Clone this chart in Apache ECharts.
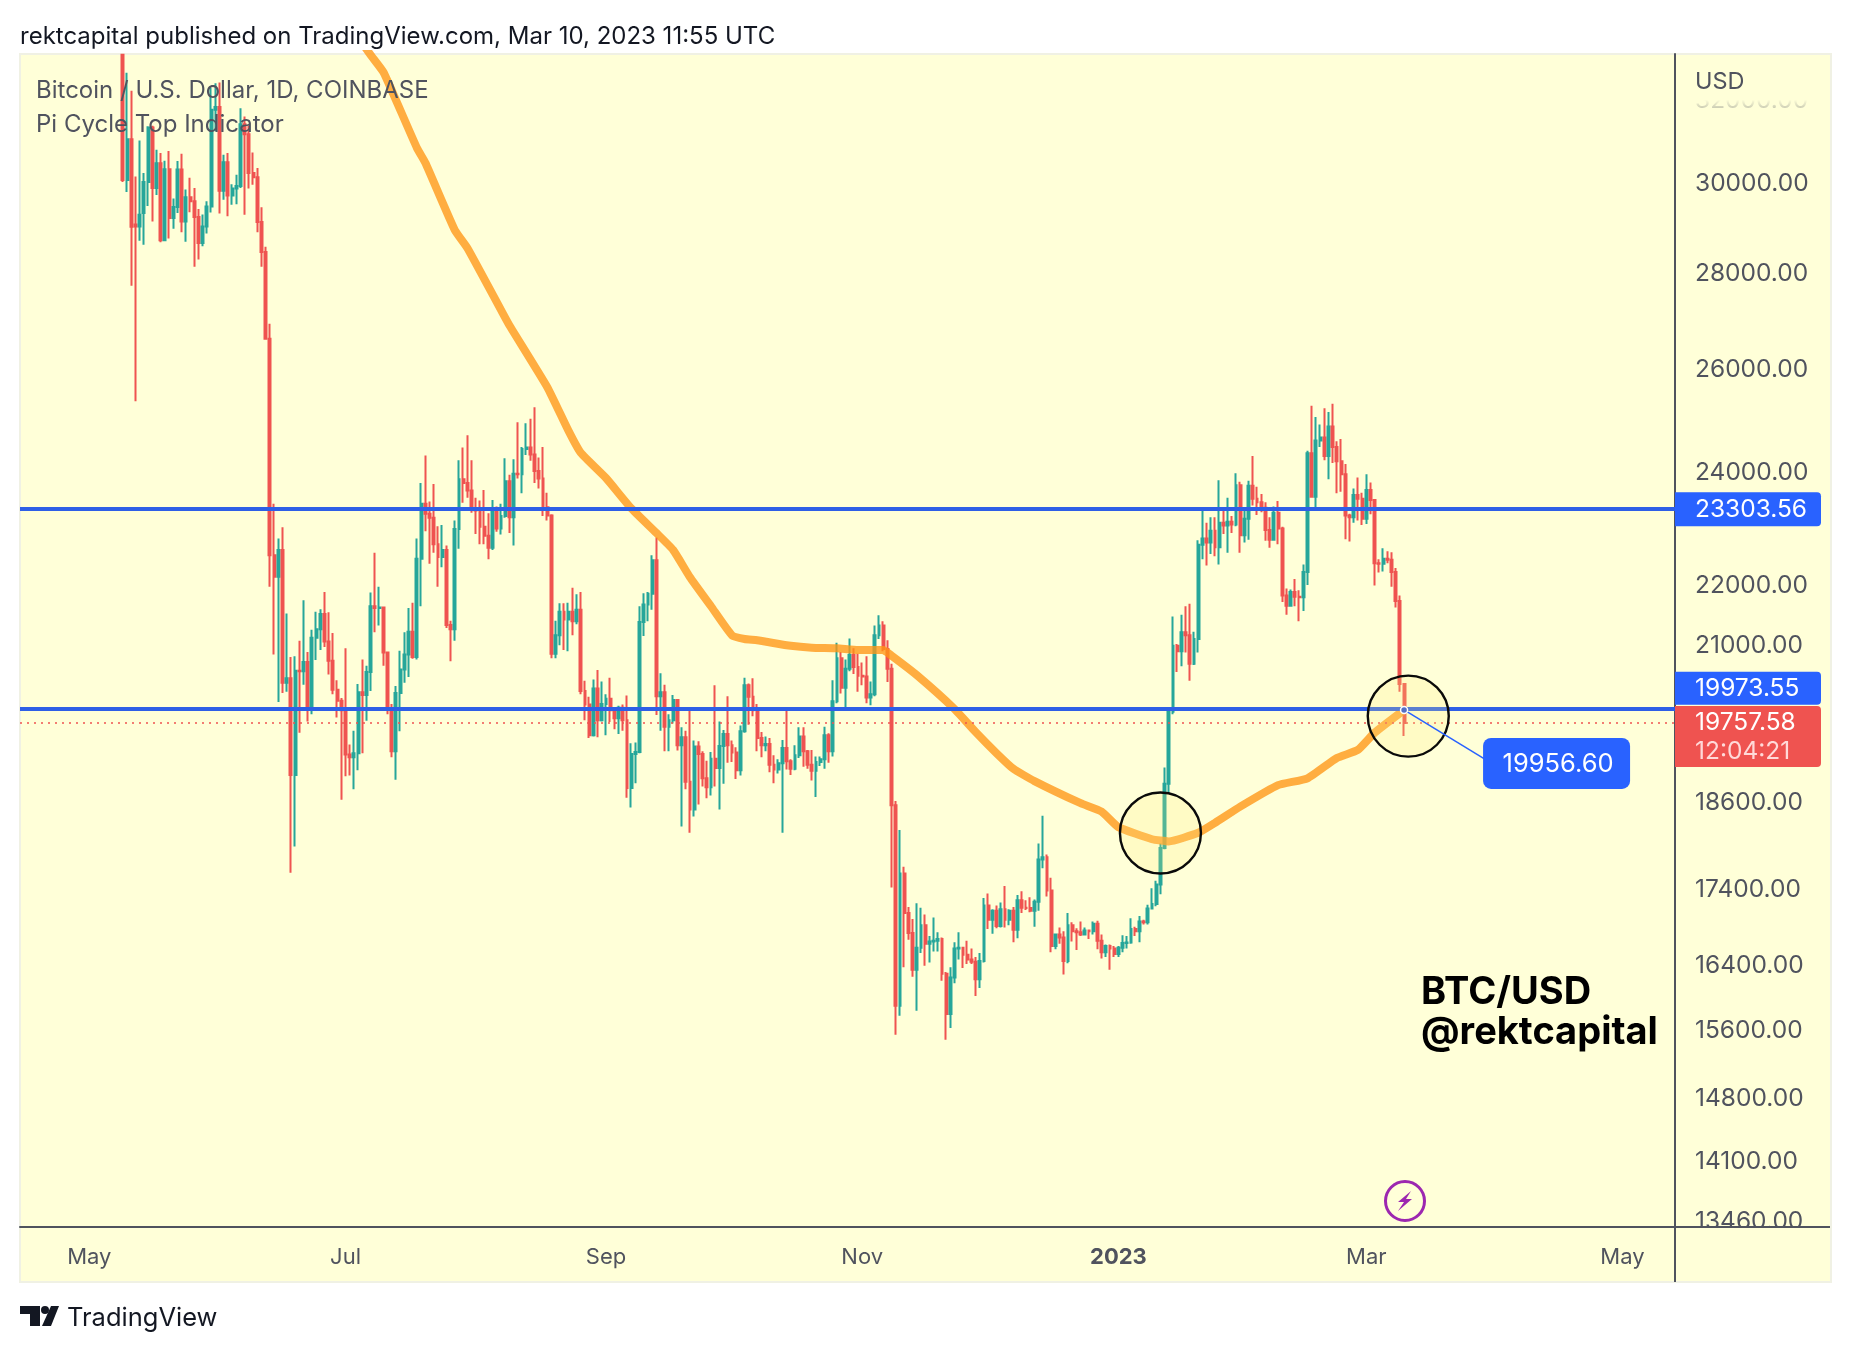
<!DOCTYPE html>
<html>
<head>
<meta charset="utf-8">
<script src="https://cdn.jsdelivr.net/npm/echarts@6/dist/echarts.min.js"></script>
<style>
  html, body { margin: 0; background: #fff; }
  #chart { width: 1850px; height: 1352px; }
</style>
</head>
<body>
<div id="chart"></div>
<script>
// daily candles, 2022-05-09 to 2023-03-10
const opens = [
  33100,30050,31010,29030,28990,29290,30000,31290,29860,30440,28680,30300,29180,29430,30290,29100,29650,29560,29200,28620,28990,29440,31720,
  31790,29800,30460,29690,29850,29910,31370,31130,30210,30110,29090,28420,26580,22490,22120,22580,20380,20450,18980,20570,20560,20710,19970,21100,21240,21490,21040,20730,20270,20100,
  19950,19280,19240,19300,20230,20190,20550,21620,21590,21600,20860,19970,19330,20220,20590,20830,21200,20790,22430,23400,23220,23150,22680,22460,22580,21310,21240,22950,23850,23780,23640,
  23300,23280,22990,22830,22620,23310,22960,23180,23810,23160,23950,23940,24410,24440,24310,24000,23860,23340,23190,20840,21140,21530,21400,21530,21370,21560,20250,20040,19570,20290,19800,
  20050,20130,19950,19830,19990,19800,18790,19290,19320,21360,21650,21830,22400,20170,20230,19700,19800,20110,19420,19540,18880,18480,19400,19290,18930,18800,19220,19080,19410,19590,
  19420,19310,19050,19630,20340,20160,19950,19530,19420,19440,19130,19060,19150,19380,19180,19070,19270,19550,19330,19130,19040,19170,19210,19570,19330,20090,20770,20300,20600,20820,20630,
  20490,20480,20150,20200,21140,21300,20920,20600,18540,15880,17590,17060,16800,16330,16610,16900,16660,16690,16700,16720,16280,15780,16230,16600,16610,16520,16460,16430,16210,16440,
  17160,16970,17090,16890,17110,16970,17090,16840,17230,17130,17125,17090,17210,17780,17810,17360,16630,16780,16740,16440,16900,16820,16810,16780,16830,16820,16920,16700,16550,16630,16600,
  16530,16610,16670,16675,16850,16820,16950,16940,17120,17180,17440,17940,18850,19930,20970,20880,21190,21140,20680,21080,22670,22780,22710,22920,22630,23060,23010,23080,23030,23740,22840,
  23130,23730,23490,23430,23330,22930,22760,23240,22960,21800,21630,21860,21780,21770,22200,24330,23530,24570,24630,24280,24840,24450,24180,23940,23190,23160,23560,23490,
  23130,23650,23470,22350,22340,22430,22410,22200,21710,20360
];
const closes = [
  30050,31010,28980,28990,29250,30000,31290,29860,30440,28680,30300,29180,29430,30290,29100,29650,29560,29200,28620,28990,29440,31720,31790,
  29800,30460,29690,29850,29910,31370,31130,30210,30110,29090,28420,26580,22490,22120,22580,20380,20450,18980,20570,20560,20710,19970,21100,21240,21490,21040,20730,20270,20100,19950,
  19280,19240,19300,20230,20190,20550,21620,21590,21600,20860,19970,19330,20220,20590,20830,21200,20790,22430,23400,23220,23150,22680,22460,22580,21310,21240,22950,23850,23780,23640,23300,
  23280,22990,22830,22620,23310,22960,23180,23810,23160,23950,23940,24410,24440,24310,24000,23860,23340,23190,20840,21140,21530,21400,21530,21370,21560,20250,20040,19570,20290,19800,20050,
  20130,19950,19830,19990,19800,18790,19290,19320,21360,21650,21830,22400,20170,20230,19700,19800,20110,19420,19540,18880,18480,19400,19290,18930,18800,19220,19080,19410,19590,19420,
  19310,19050,19630,20340,20160,19950,19530,19420,19440,19130,19060,19150,19380,19180,19070,19270,19550,19330,19130,19040,19170,19210,19570,19330,20090,20770,20300,20600,20820,20630,20490,
  20480,20150,20200,21140,21300,20920,20600,18540,15880,17590,17060,16800,16330,16610,16900,16660,16690,16700,16720,16280,15780,16230,16600,16610,16520,16460,16430,16210,16440,17160,
  16970,17090,16890,17110,16970,17090,16840,17230,17130,17125,17090,17210,17780,17810,17360,16630,16780,16740,16440,16900,16820,16810,16780,16830,16820,16920,16700,16550,16630,16600,16530,
  16610,16670,16675,16850,16820,16950,16940,17120,17180,17440,17940,18850,19930,20970,20880,21190,21140,20680,21080,22670,22780,22710,22920,22630,23060,23010,23080,23030,23740,22840,23130,
  23730,23490,23430,23330,22930,22760,23240,22960,21800,21630,21860,21780,21770,22200,24330,23530,24570,24630,24280,24840,24450,24180,23940,23190,23160,23560,23490,23130,
  23650,23470,22350,22340,22430,22410,22200,21710,20360,19757.58
];
const lows = [
  30000,29770,27690,25330,28670,28580,29450,29100,29700,28640,28680,28720,28940,29290,28860,28650,29310,28100,28260,28550,28830,29300,31200,
  29280,29590,29220,29480,29490,29860,29250,29850,29940,28860,28100,26560,21950,20830,20080,20220,20240,17600,17960,19610,20350,19780,19890,20740,20900,20950,20510,20200,19840,18620,
  18960,18970,18770,19050,19300,19790,20250,21190,21300,20650,19890,19240,18910,19630,20380,20470,20760,20750,21620,22910,22340,22530,21950,22280,21260,20720,21050,22600,23420,23510,23240,
  22860,22680,22680,22420,22580,22900,22850,23150,22880,22660,23860,23590,24300,24190,23780,23680,23180,23100,20770,20770,20980,20900,20880,21140,21320,20200,19800,19530,19550,19540,19780,
  19570,19770,19660,19590,19640,18650,18510,18860,19300,21130,21370,21560,19880,19640,19330,19330,19750,19340,18240,18770,18150,18380,18550,18810,18640,18680,18810,18480,18850,19160,
  19170,18920,18970,19610,19730,19860,19330,19240,19330,19020,18860,19000,18150,19060,18980,19050,19230,19100,19070,18900,18660,19110,19070,19160,19250,20060,20210,20000,20560,20520,20240,
  20340,20060,20030,20170,21080,20880,20390,17400,15530,15760,16360,16710,16240,15820,16540,16380,16420,16560,16560,16190,15470,15610,16160,16460,16350,16400,16400,16000,16100,16420,
  16850,16790,16860,16870,16870,16900,16680,16730,17060,17100,17070,16880,17090,17660,17280,16550,16590,16660,16270,16410,16690,16580,16760,16780,16720,16780,16590,16470,16490,16330,16490,
  16490,16550,16600,16660,16760,16680,16910,16910,17110,17150,17310,17920,18720,19890,20550,20640,20860,20410,20660,20860,22420,22310,22510,22470,22330,22860,22530,22880,23000,22530,22710,
  22760,23370,23200,23250,22740,22620,22740,22680,21690,21480,21620,21620,21370,21540,21980,23510,23340,24450,24200,23850,24150,23590,23620,22770,22730,23060,23100,23020,
  23040,23210,21970,22190,22210,22350,21950,21600,20240,19560
];
const highs = [
  33100,32640,32190,30130,30980,30210,31320,31330,30760,30680,30500,30730,29620,30490,30660,29830,30100,29860,29380,29260,29560,32260,32380,
  32400,30640,30680,29950,30170,31760,31560,31330,30690,30330,29420,28540,26890,23400,22780,22980,21500,20790,20800,21050,21720,20870,21230,21530,21570,21860,21520,21180,20420,20140,
  20930,19430,19640,20360,20750,20650,21850,22530,21950,21600,20860,20050,20330,20890,21190,21590,21680,22780,23780,24290,23440,23760,23000,23020,22660,21380,23100,24200,24440,24670,24200,
  23510,23460,23650,23230,23470,23350,23400,24240,23930,24220,24920,24450,24900,24990,25210,24250,24450,23600,23210,21380,21670,21670,21680,21930,21820,21860,20410,20160,20430,20580,20400,
  20200,20460,19980,20020,20040,20180,19450,19460,21620,21840,21860,22490,22800,20530,20350,19890,20190,20110,19690,19640,19960,19490,19480,19330,19190,19320,20340,19780,19650,20170,
  19490,19390,19720,20460,20370,20450,20050,19620,19550,19530,19270,19210,19500,19950,19210,19420,19690,19690,19350,19350,19250,19250,19700,19600,20420,21020,20870,20750,21090,20930,20840,
  20700,20800,20400,21300,21470,21370,21060,20680,18600,18190,17680,17140,16980,17190,17130,17040,16760,17000,16810,16740,16300,16360,16680,16810,16620,16700,16600,16490,16540,17260,
  17320,17110,17160,17200,17420,17110,17140,17300,17350,17230,17270,17240,18000,18390,17850,17530,16790,16870,16820,17060,16940,16860,16950,16870,16840,16950,16960,16780,16650,16650,16630,
  16630,16770,16760,16990,16880,17020,16970,17170,17390,17490,18000,19090,19990,21450,21000,21480,21620,21660,21200,22750,23340,23060,23160,23160,23830,23290,23510,23180,23960,23800,23320,
  23820,24280,23710,23580,23430,23160,23350,23450,22990,21920,21900,22080,21890,22330,24380,25240,25020,24880,25190,25120,25280,24560,24600,24130,23220,23680,23880,23600,
  23940,23790,23480,22420,22610,22560,22540,22270,21800,20370
];

// Pi Cycle line, read at the bends
const piDates = [
  '2022-07-01','2022-07-07','2022-07-10','2022-07-13','2022-07-18','2022-07-20','2022-07-27','2022-07-30','2022-08-07','2022-08-09',
  '2022-08-18','2022-08-23','2022-08-26','2022-09-01','2022-09-07','2022-09-13','2022-09-17','2022-09-21','2022-09-26','2022-10-01',
  '2022-10-04','2022-10-07','2022-10-15','2022-10-20','2022-10-26','2022-10-31','2022-11-06','2022-11-08','2022-11-14','2022-11-23',
  '2022-11-28','2022-12-03','2022-12-07','2022-12-12','2022-12-23','2022-12-28','2023-01-01','2023-01-09','2023-01-13','2023-01-20',
  '2023-01-24','2023-01-30','2023-02-08','2023-02-15','2023-02-22','2023-02-27','2023-03-03','2023-03-10'
];
const piValues = [
  34000,33090,32660,31960,30800,30450,28910,28510,27180,26860,
  25610,24770,24340,23870,23320,22880,22580,22110,21620,21140,
  21080,21060,20970,20940,20930,20900,20900,20810,20500,19970,
  19620,19300,19070,18890,18570,18450,18230,18060,18030,18150,
  18290,18520,18830,18930,19230,19350,19610,19956.60
];

const yTicks = [13460, 14100, 14800, 15600, 16400, 17400, 18600, 21000, 22000, 24000, 26000, 28000, 30000, 32000];
const xLabels = { '2022-05-01': 'May', '2022-07-01': 'Jul', '2022-09-01': 'Sep', '2022-11-01': 'Nov', '2023-01-01': '2023', '2023-03-01': 'Mar', '2023-05-01': 'May' };

const levelHigh = 23303.56;
const levelLow = 19973.55;
const lastPrice = 19757.58;
const countdown = '12:04:21';
const piLast = 19956.60;
const circleDates = ['2023-01-11', '2023-03-11'];
const circleValues = [18148, 19862];

const firstDay = '2022-04-15';
const candleStart = '2022-05-09';
const dayCount = 394;

const GREEN = '#26a69a', RED = '#ef5350', BLUE = '#2962ff', LINE_BLUE = '#2e5fe6';
const PANEL = '#ffffd8', AXIS = '#50535e', TEXT = '#50535e', FONT = 'Inter, "Noto Sans", sans-serif';

// category list, one entry per day
const days = [];
for (let i = 0; i < dayCount; i++) {
  days.push(new Date(Date.parse(firstDay) + i * 86400000).toISOString().slice(0, 10));
}
const offset = days.indexOf(candleStart);
const candleData = days.map((d, i) => {
  const k = i - offset;
  return k >= 0 && k < opens.length ? [opens[k], closes[k], lows[k], highs[k]] : '-';
});

// price tags on the right panel and the callout, placed from the axis scale
function renderTags(params, api) {
  const kind = api.value(2);
  const y = api.coord([0, api.value(1)])[1];
  const left = params.coordSys.x + params.coordSys.width;
  const tag = (top, h, fill, lines) => ({
    type: 'group',
    children: [
      { type: 'rect', shape: { x: left, y: top, width: 146, height: h, r: [0, 4, 4, 0] }, style: { fill } }
    ].concat(lines.map((l, i) => ({
      type: 'text',
      style: { x: left + 20, y: top + 17 + i * 29, text: l.t, fill: l.c, font: '24.5px ' + FONT, verticalAlign: 'middle' }
    })))
  });
  if (kind === 0) return tag(y - 17, 34, BLUE, [{ t: levelHigh.toFixed(2), c: '#fff' }]);
  if (kind === 1) return tag(y - 37, 33, BLUE, [{ t: levelLow.toFixed(2), c: '#fff' }]);
  if (kind === 2) return tag(y - 17, 61, RED, [{ t: lastPrice.toFixed(2), c: '#fff' }, { t: countdown, c: '#ffd9d8' }]);
  const x = api.coord([api.value(0), api.value(1)])[0];
  return {
    type: 'group',
    children: [
      { type: 'line', shape: { x1: x, y1: y, x2: x + 82, y2: y + 50 }, style: { stroke: BLUE, lineWidth: 1.5 } },
      { type: 'circle', shape: { cx: x, cy: y, r: 3.5 }, style: { fill: '#5470c6', stroke: '#fff', lineWidth: 1.5 } },
      { type: 'rect', shape: { x: x + 79, y: y + 28, width: 147, height: 51, r: 8 }, style: { fill: BLUE } },
      { type: 'text', style: { x: x + 154, y: y + 54, text: piLast.toFixed(2), fill: '#fff', font: '25.5px ' + FONT, align: 'center', verticalAlign: 'middle' } }
    ]
  };
}

const chart = echarts.init(document.getElementById('chart'));
chart.setOption({
  animation: false,
  backgroundColor: '#fff',
  grid: { left: 20, right: 175, top: 54, bottom: 125 },
  xAxis: {
    type: 'category',
    data: days,
    boundaryGap: true,
    axisLine: { lineStyle: { color: AXIS, width: 2 } },
    axisTick: { show: false },
    splitLine: { show: false },
    axisLabel: {
      margin: 19,
      color: TEXT,
      fontFamily: FONT,
      fontSize: 22,
      interval: (i, d) => d in xLabels,
      formatter: d => (xLabels[d] === '2023' ? '{b|2023}' : xLabels[d]),
      rich: { b: { fontWeight: 'bold', fontSize: 22, fontFamily: FONT, color: TEXT } }
    }
  },
  yAxis: {
    type: 'log',
    logBase: 10,
    position: 'right',
    min: 13387,
    max: 33118,
    axisLine: { show: true, lineStyle: { color: AXIS, width: 2 } },
    axisTick: { show: false },
    splitLine: { show: false },
    axisLabel: {
      margin: 20,
      customValues: yTicks,
      formatter: v => '{t|' + Number(v).toFixed(2) + '}',
      // top padding nudges the text down to sit where the reference has it
      rich: { t: { color: TEXT, fontFamily: FONT, fontSize: 24.5, padding: [4, 0, 0, 0] } }
    }
  },
  series: [
    {
      type: 'candlestick',
      data: candleData,
      barWidth: 2.4,
      z: 2,
      itemStyle: { color: GREEN, color0: RED, borderColor: GREEN, borderColor0: RED, borderWidth: 2 },
      markLine: {
        silent: true,
        symbol: 'none',
        animation: false,
        label: { show: false },
        data: [
          { yAxis: levelHigh, lineStyle: { color: LINE_BLUE, width: 4, type: 'solid' } },
          { yAxis: levelLow, lineStyle: { color: LINE_BLUE, width: 4, type: 'solid' } },
          { yAxis: lastPrice, lineStyle: { color: RED, width: 1.5, type: [2, 5] } }
        ]
      }
    },
    {
      type: 'line',
      data: piDates.map((d, i) => [d, piValues[i]]),
      showSymbol: false,
      smooth: 0.15,
      z: 4,
      lineStyle: { color: 'rgba(255,150,20,0.78)', width: 8, cap: 'round', join: 'round' }
    },
    {
      type: 'scatter',
      data: circleDates.map((d, i) => [d, circleValues[i]]),
      symbol: 'circle',
      symbolSize: 81,
      z: 5,
      itemStyle: { color: 'rgba(255,235,130,0.22)', borderColor: '#0a0a0a', borderWidth: 2.4, opacity: 1 }
    },
    {
      type: 'custom',
      z: 6,
      clip: false,
      renderItem: renderTags,
      data: [
        [candleStart, levelHigh, 0],
        [candleStart, levelLow, 1],
        [candleStart, lastPrice, 2],
        ['2023-03-10', piLast, 3]
      ]
    }
  ],
  graphic: [
    { type: 'rect', z: -10, shape: { x: 20, y: 54, width: 1811, height: 1228 }, style: { fill: PANEL, stroke: '#f0f1e4', lineWidth: 2 } },
    // fades the top price label under USD, clips the bottom one at the time axis
    { type: 'rect', z: 50, shape: { x: 1678, y: 55, width: 152, height: 56 },
      style: { fill: new echarts.graphic.LinearGradient(0, 0, 0, 1, [{ offset: 0, color: PANEL }, { offset: 0.8, color: PANEL }, { offset: 1, color: 'rgba(255,255,216,0.6)' }]) } },
    { type: 'rect', z: 50, shape: { x: 1678, y: 1228, width: 152, height: 53 }, style: { fill: PANEL } },
    { type: 'line', z: 51, shape: { x1: 1675, y1: 1227, x2: 1830, y2: 1227 }, style: { stroke: AXIS, lineWidth: 2 } },
    { type: 'line', z: 51, shape: { x1: 1675, y1: 1227, x2: 1675, y2: 1282 }, style: { stroke: AXIS, lineWidth: 2 } },
    { type: 'text', z: 52, style: { x: 20, y: 37, text: 'rektcapital published on TradingView.com, Mar 10, 2023 11:55 UTC', fill: '#131722', font: '24px ' + FONT, verticalAlign: 'middle' } },
    { type: 'text', z: 52, style: { x: 36, y: 91, text: 'Bitcoin / U.S. Dollar, 1D, COINBASE', fill: TEXT, font: '24px ' + FONT, verticalAlign: 'middle' } },
    { type: 'text', z: 52, style: { x: 36, y: 125, text: 'Pi Cycle Top Indicator', fill: TEXT, font: '24px ' + FONT, verticalAlign: 'middle' } },
    { type: 'text', z: 52, style: { x: 1695, y: 82, text: 'USD', fill: TEXT, font: '23.5px ' + FONT, verticalAlign: 'middle' } },
    { type: 'text', z: 52, style: { x: 1421, y: 993, text: 'BTC/USD', fill: '#000', font: 'bold 38px ' + FONT, verticalAlign: 'middle' } },
    { type: 'text', z: 52, style: { x: 1421, y: 1033, text: '@rektcapital', fill: '#000', font: 'bold 38px ' + FONT, verticalAlign: 'middle' } },
    // lightning badge
    { type: 'circle', z: 52, shape: { cx: 1405, cy: 1201, r: 19.5 }, style: { fill: 'none', stroke: '#9c27b0', lineWidth: 3 } },
    { type: 'polygon', z: 52, shape: { points: [[1411, 1191], [1398, 1202], [1404, 1202], [1398, 1211], [1412, 1199], [1406, 1199]] }, style: { fill: '#9c27b0' } },
    // TradingView mark
    { type: 'polygon', z: 52, shape: { points: [[20, 1306], [40, 1306], [40, 1326], [30, 1326], [30, 1314], [20, 1314]] }, style: { fill: '#131722' } },
    { type: 'circle', z: 52, shape: { cx: 45, cy: 1310, r: 4 }, style: { fill: '#131722' } },
    { type: 'polygon', z: 52, shape: { points: [[51, 1306], [59, 1306], [51, 1326], [42, 1326]] }, style: { fill: '#131722' } },
    { type: 'text', z: 52, style: { x: 67, y: 1318, text: 'TradingView', fill: '#131722', font: '25.5px ' + FONT, verticalAlign: 'middle' } }
  ]
});
</script>
</body>
</html>
